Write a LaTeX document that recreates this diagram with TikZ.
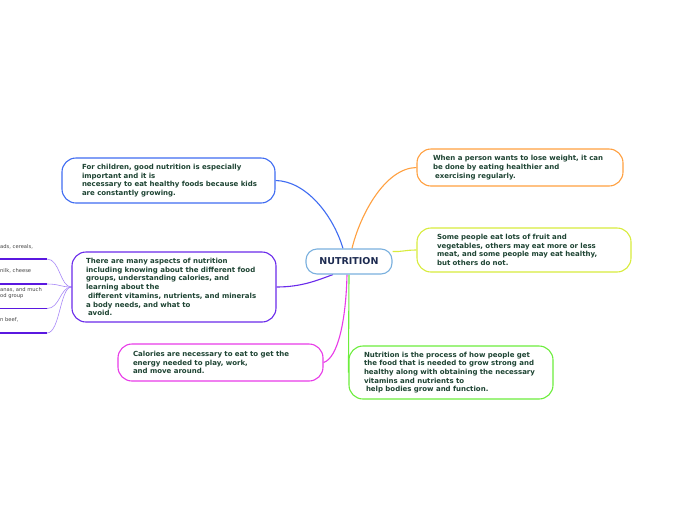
\documentclass[tikz,border=0pt]{standalone}
\usepackage{fontspec}
\setmainfont{DejaVu Sans}
\usetikzlibrary{backgrounds}
\definecolor{txtgreen}{HTML}{1E4433}
\definecolor{mainnavy}{HTML}{1C2A50}
\definecolor{mainblue}{HTML}{7AB0DE}
\definecolor{cblue}{HTML}{3F6CF2}
\definecolor{cpurple}{HTML}{6A2BEB}
\definecolor{cmagenta}{HTML}{E83BE8}
\definecolor{corange}{HTML}{FFA040}
\definecolor{cyellow}{HTML}{D8EC3C}
\definecolor{cgreen}{HTML}{6CEE3C}
\definecolor{twigpurple}{HTML}{A888F8}
\definecolor{stempurple}{HTML}{5A18E0}
\definecolor{leafgrey}{HTML}{444444}
\begin{document}
\begin{tikzpicture}[x=1pt, y=-1pt, every text node part/.style={align=left}]
        \tikzset{
          topic/.style={draw, line width=1.1pt, rounded corners=14pt, fill=white, text=txtgreen,
            font=\bfseries\fontsize{7}{8.7}\selectfont, inner ysep=0pt},
          branch/.style={line width=1.1pt},
          leaf/.style={anchor=base west, inner sep=0pt, text=leafgrey, font=\fontsize{5.2}{6}\selectfont},
          twig/.style={line width=0.6pt, twigpurple},
          stem/.style={line width=1.3pt, stempurple},
        }
        \useasboundingbox (0,0) rectangle (696,520);
        \node [topic, draw=mainblue, text=mainnavy, font=\bfseries\fontsize{9.5}{10}\selectfont,
          minimum width=86pt, minimum height=25pt, rounded corners=11pt, inner xsep=0pt, align=center] (main) at (349,261.5) {NUTRITION};
        % 
        \node [topic, draw=cblue, minimum width=213pt, minimum height=45pt, inner xsep=20pt, text width=173pt] (children) at (168.5,180.5)
          {For children, good nutrition is especially\\important and it is\\\mbox{necessary to eat healthy foods because kids}\\are constantly growing.};
        \node [topic, draw=cpurple, minimum width=204pt, minimum height=70pt, inner xsep=14pt, text width=176pt] (aspects) at (174,287)
          {There are many aspects of nutrition\\including knowing about the different food\\groups, understanding calories, and\\learning about the\\\mbox{\hspace*{2pt}different vitamins, nutrients, and minerals}\\a body needs, and what to\\\hspace*{2pt}avoid.};
        \node [topic, draw=cmagenta, minimum width=205pt, minimum height=37pt, inner xsep=15pt, text width=175pt] (calories) at (220.5,362.5)
          {Calories are necessary to eat to get the\\energy needed to play, work,\\and move around.};
        \node [topic, draw=corange, minimum width=206pt, minimum height=37pt, inner xsep=16pt, text width=174pt] (weight) at (520,167.5)
          {\mbox{When a person wants to lose weight, it can}\\be done by eating healthier and\\\hspace*{2pt}exercising regularly.};
        \node [topic, draw=cyellow, minimum width=214pt, minimum height=44pt, inner xsep=20pt, text width=174pt] (people) at (524,250)
          {Some people eat lots of fruit and\\vegetables, others may eat more or less\\meat, and some people may eat healthy,\\but others do not.};
        \node [topic, draw=cgreen, minimum width=204pt, minimum height=53pt, inner xsep=15pt, text width=174pt] (process) at (451,372.5)
          {Nutrition is the process of how people get\\the food that is needed to grow strong and\\\mbox{healthy along with obtaining the necessary}\\vitamins and nutrients to\\\hspace*{2pt}help bodies grow and function.};
        % 
        \node [leaf] (t1) at (0,248) {ads, cereals,};
        \node [leaf] (t2) at (0,272) {nilk, cheese};
        \node [leaf, align=left] (t3) at (0,297.5) {anas, and much\\od group};
        \node [leaf] (t4) at (0,321) {n beef,};
        \coordinate (l1) at (47,259);
        \coordinate (l2) at (47,284);
        \coordinate (l3) at (47,308.5);
        \coordinate (l4) at (47,333);
        \coordinate (e1) at (0,259);
        \coordinate (e2) at (0,284);
        \coordinate (e3) at (0,308.5);
        \coordinate (e4) at (0,333);
        % 
        \begin{scope}[on background layer]
        \fill [white] (0,0) rectangle (696,520);
        \draw [branch, cblue] (children.east) .. controls (306,181) and (333,215) .. ([xshift=-6pt]main.north);
        \draw [branch, corange] ([xshift=3pt]main.north) .. controls (360,215) and (385,168) .. (weight.west);
        \draw [branch, cyellow] ([yshift=-3pt]main.north east) .. controls (402,252) and (405,250) .. (people.west);
        \draw [branch, cpurple] (aspects.east) .. controls (302,287) and (318,280) .. ([xshift=-16pt]main.south);
        \draw [branch, cmagenta] ([xshift=-2pt]main.south) .. controls (346,320) and (338,358) .. (calories.east);
        \draw [branch, cgreen] (main.south) -- (process.west);
        \draw [twig] (aspects.west) .. controls (60,287) and (60,259) .. (l1);
        \draw [twig] (aspects.west) .. controls (60,287) and (60,284) .. (l2);
        \draw [twig] (aspects.west) .. controls (60,287) and (60,308.5) .. (l3);
        \draw [twig] (aspects.west) .. controls (60,287) and (60,333) .. (l4);
        \draw [stem] (l1) -- (e1);
        \draw [stem] (l2) -- (e2);
        \draw [stem] (l3) -- (e3);
        \draw [stem] (l4) -- (e4);
        \end{scope}
    \end{tikzpicture}
\end{document}
